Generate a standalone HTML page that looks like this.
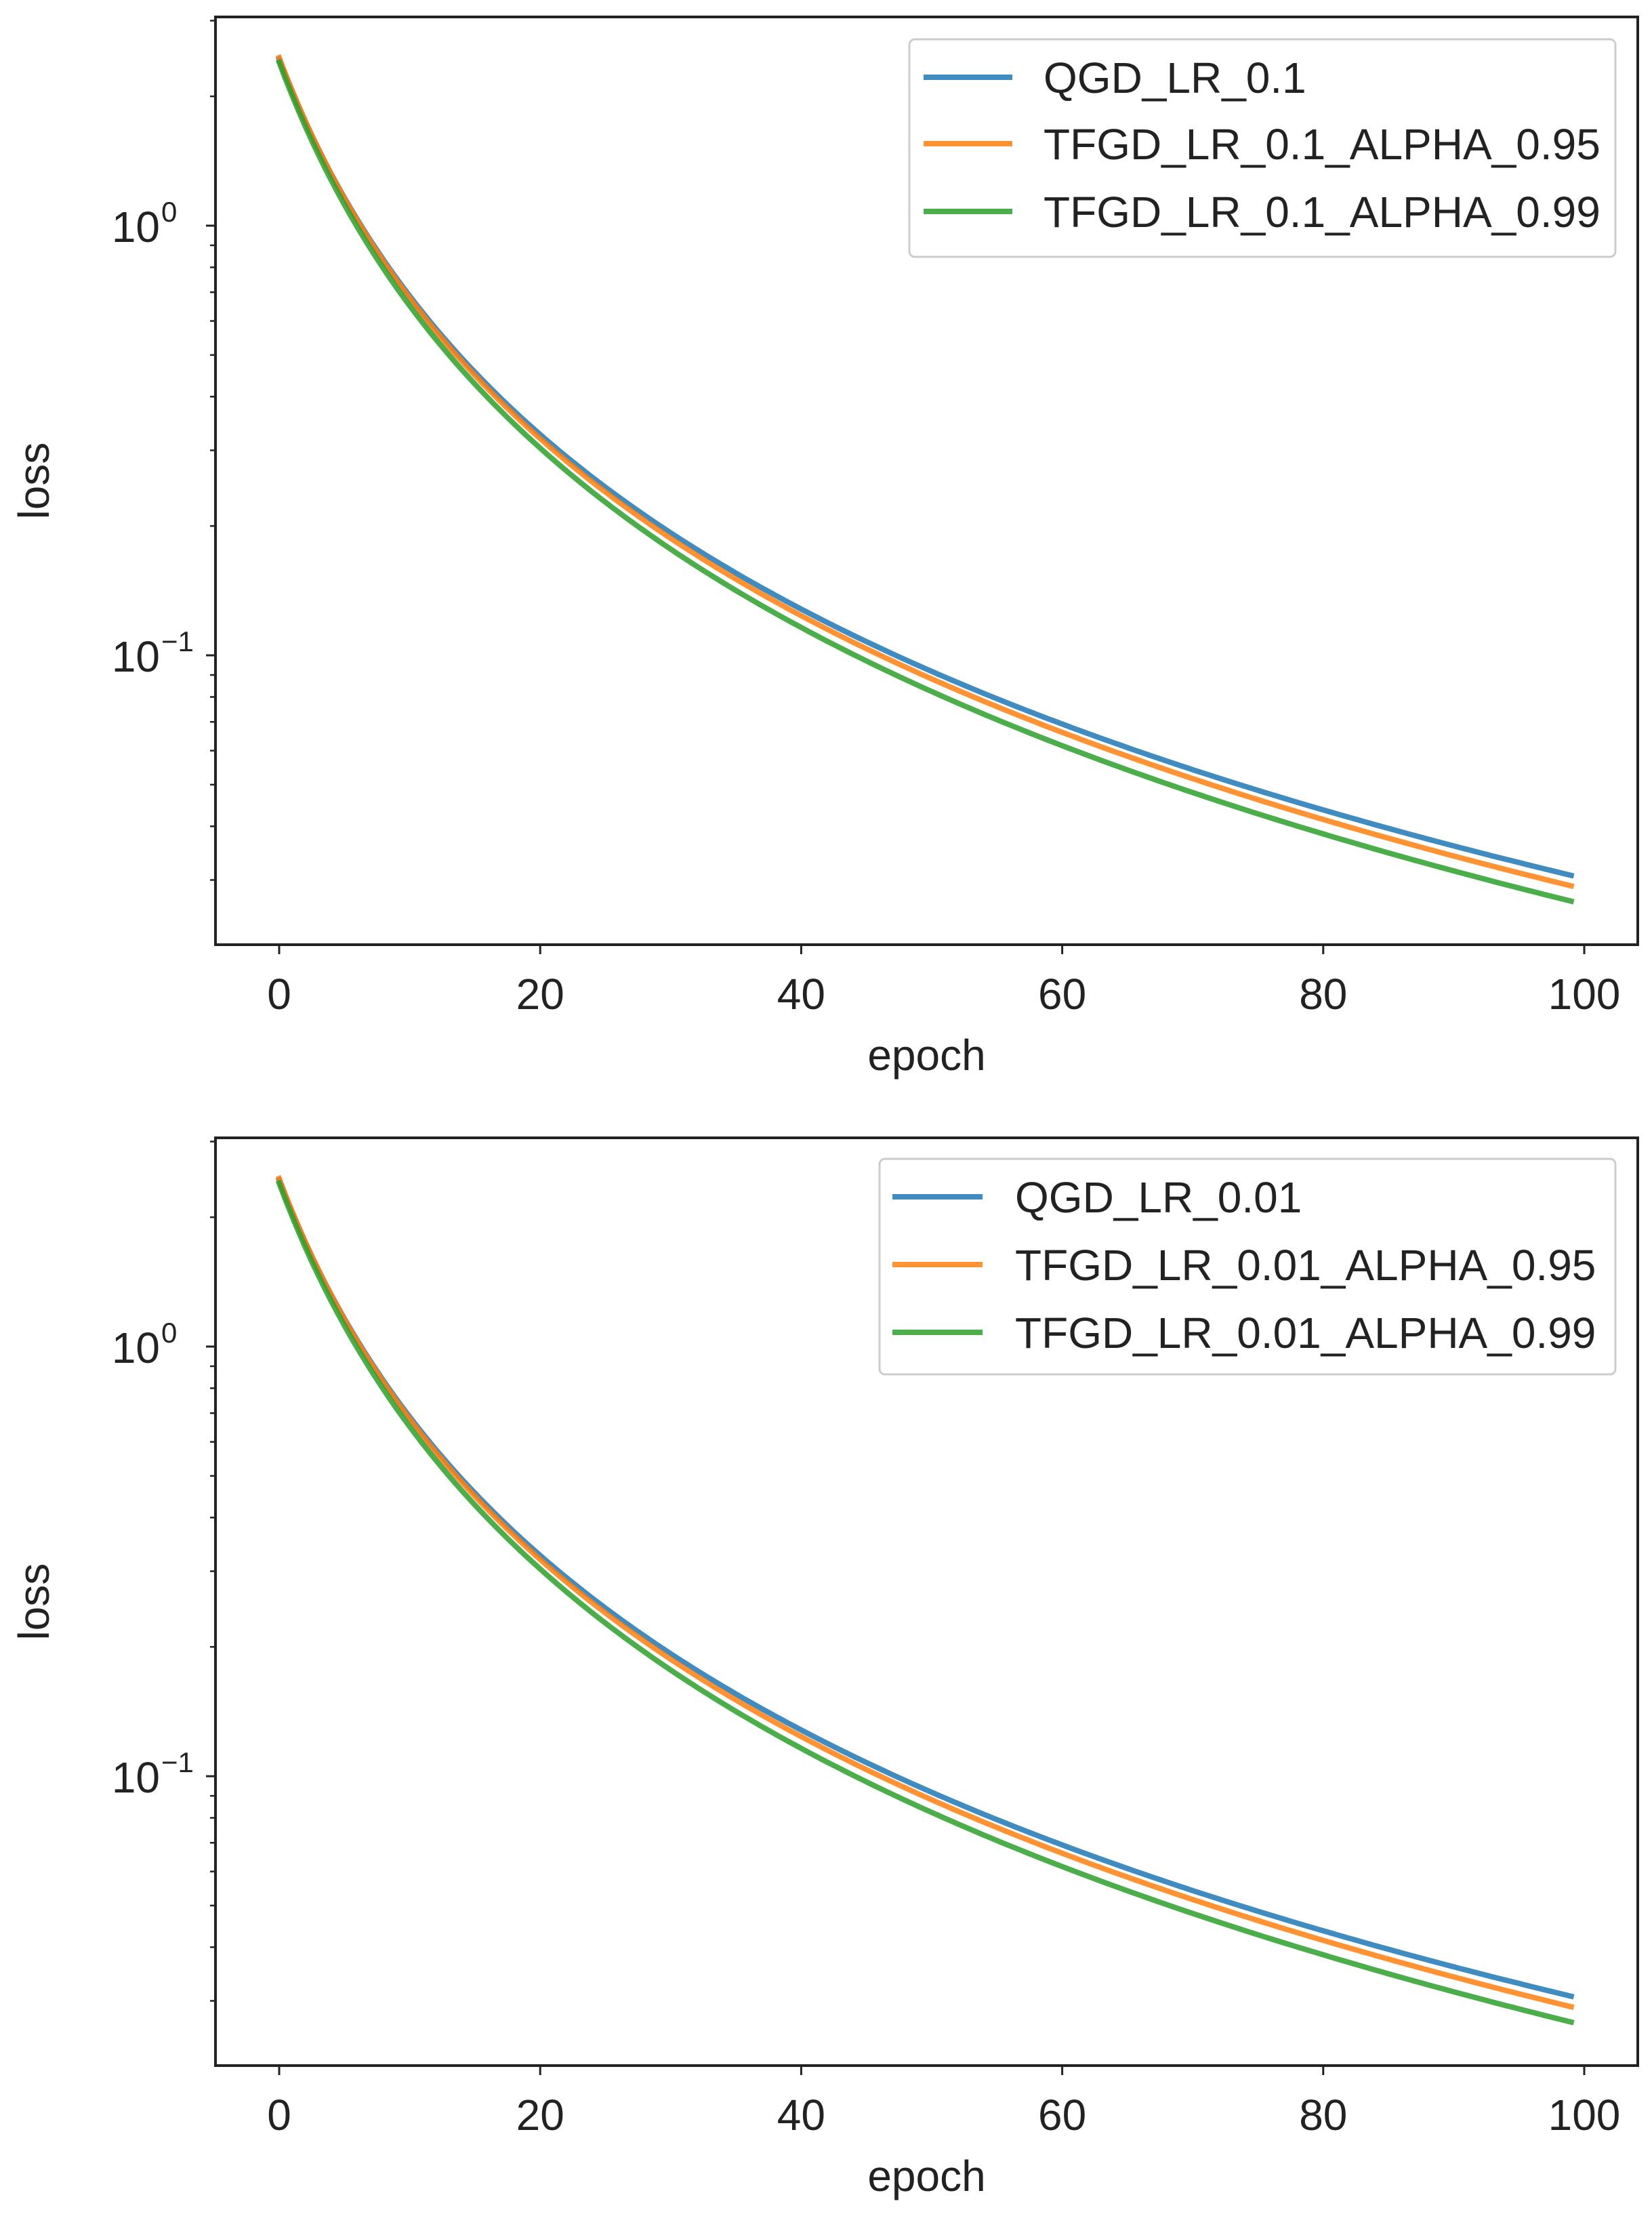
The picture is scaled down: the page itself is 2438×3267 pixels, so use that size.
<!DOCTYPE html>
<html><head><meta charset="utf-8"><style>
html,body{margin:0;padding:0;background:#fff}
svg{display:block}
text{font-family:"Liberation Sans","DejaVu Sans",sans-serif;fill:#222}
</style></head><body>
<svg id="s" width="2438" height="3267" viewBox="0 0 2438 3267" xmlns="http://www.w3.org/2000/svg"></svg>
<script>
const S=document.getElementById('s');
let h='';
const L=318,R=2417,X0=412,XS=19.26;
function panel(dy,labels){
  const top=25+dy,bot=1394+dy,y0=333+dy,dec=634;
  const Y=v=>y0-Math.log10(v)*dec;
  const ps=[1.831,1.858,1.882],cols=['#1f77b4','#ff7f0e','#2ca02c'];
  const starts=[2.44,2.46,2.40];
  for(let k=0;k<3;k++){
    let pts=[];
    for(let t=0;t<=99;t+=0.5){
      const v=starts[k]*Math.pow(1+t/10,-ps[k]);
      pts.push((X0+t*XS).toFixed(1)+','+Y(v).toFixed(1));
    }
    h+=`<polyline points="${pts.join(' ')}" fill="none" stroke="${cols[k]}" stroke-opacity="0.85" stroke-width="8" stroke-linejoin="round" stroke-linecap="square"/>`;
  }
  h+=`<rect x="${L}" y="${top}" width="${R-L}" height="${bot-top}" fill="none" stroke="#222" stroke-width="4"/>`;
  for(let i=0;i<=100;i+=20){
    const x=X0+i*XS;
    h+=`<line x1="${x}" y1="${bot}" x2="${x}" y2="${bot+14}" stroke="#222" stroke-width="3"/>`;
    h+=`<text x="${x}" y="${bot+95}" font-size="64" text-anchor="middle">${i}</text>`;
  }
  h+=`<text x="${(L+R)/2}" y="${bot+185}" font-size="64" text-anchor="middle">epoch</text>`;
  h+=`<text transform="translate(72,${(top+bot)/2}) rotate(-90)" font-size="64" text-anchor="middle">loss</text>`;
  [[1,'0'],[0.1,'−1']].forEach(([v,e])=>{
    const y=Y(v);
    h+=`<line x1="${L}" y1="${y}" x2="${L-14}" y2="${y}" stroke="#222" stroke-width="3"/>`;
    h+=`<text x="${L-82}" y="${y+24}" font-size="64" text-anchor="end">10</text><text x="${L-80}" y="${y-6}" font-size="42">${e}</text>`;
  });
  [0.01,0.1,1].forEach(b=>{for(let m=2;m<=9;m++){const v=b*m;const y=Y(v);if(y>top&&y<bot)h+=`<line x1="${L}" y1="${y}" x2="${L-8}" y2="${y}" stroke="#222" stroke-width="2.5"/>`;}});
  const lg=labels;
  h+=`<rect x="${lg.bx}" y="${lg.by+dy}" width="${2384-lg.bx}" height="${lg.bh}" rx="8" fill="#fff" fill-opacity="0.8" stroke="#ccc" stroke-width="3"/>`;
  for(let k=0;k<3;k++){
    const y=lg.rows[k]+dy;
    h+=`<line x1="${lg.hx1}" y1="${y}" x2="${lg.hx2}" y2="${y}" stroke="${cols[k]}" stroke-opacity="0.85" stroke-width="8"/>`;
    h+=`<text x="${lg.tx}" y="${y+23}" font-size="64">${lg.t[k]}</text>`;
  }
}
panel(0,{bx:1342,by:58,bh:321,rows:[114,212,312],hx1:1363,hx2:1494,tx:1540,
  t:['QGD_LR_0.1','TFGD_LR_0.1_ALPHA_0.95','TFGD_LR_0.1_ALPHA_0.99']});
panel(1654,{bx:1298,by:56,bh:318,rows:[112,212,312],hx1:1317,hx2:1450,tx:1498,
  t:['QGD_LR_0.01','TFGD_LR_0.01_ALPHA_0.95','TFGD_LR_0.01_ALPHA_0.99']});
S.innerHTML=h;
</script>
</body></html>
